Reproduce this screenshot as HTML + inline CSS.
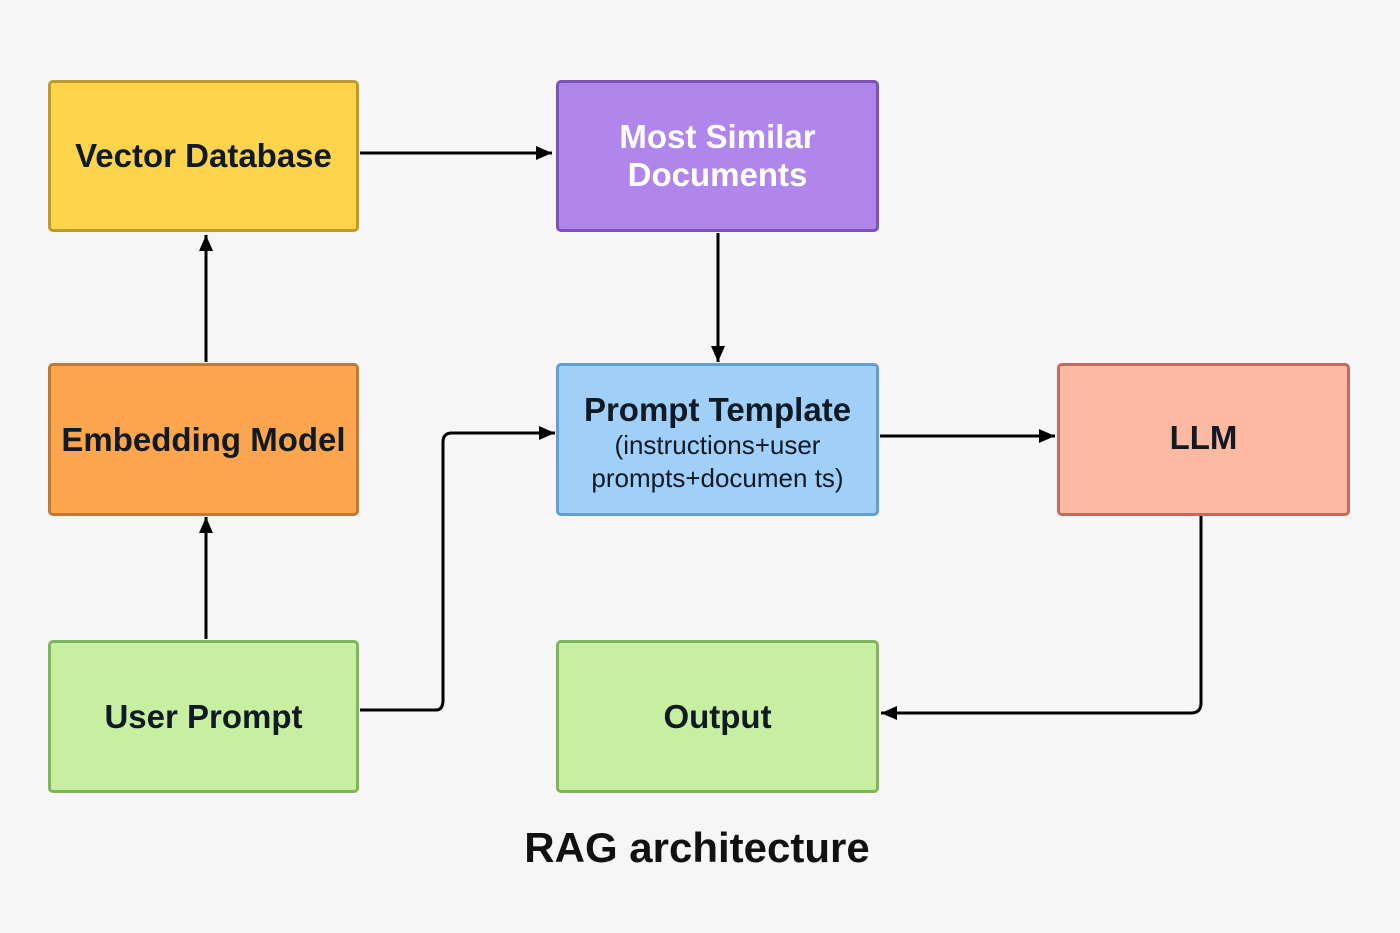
<!DOCTYPE html>
<html><head><style>
body{margin:0;width:1400px;height:933px;background:#f6f6f6;font-family:"Liberation Sans",sans-serif;position:relative;overflow:hidden}
.b{position:absolute;box-sizing:border-box;border:3px solid;border-radius:5px;display:flex;align-items:center;justify-content:center;text-align:center;font-weight:bold;font-size:33px;color:#0f1a24;line-height:38px}
svg{position:absolute;left:0;top:0}
</style></head><body>
<div class="b" style="left:48px;top:80px;width:311px;height:152px;background:#fed44c;border-color:#c19a2e;padding-top:0">Vector Database</div>
<div class="b" style="left:556px;top:80px;width:323px;height:152px;background:#b085ec;border-color:#7e51b7;color:#fff">Most Similar<br>Documents</div>
<div class="b" style="left:48px;top:363px;width:311px;height:153px;background:#fba54e;border-color:#c07a33">Embedding Model</div>
<div class="b" style="left:556px;top:363px;width:323px;height:153px;background:#a0cff8;border-color:#5f9fd3;flex-direction:column;padding-top:6px"><div>Prompt Template</div><div style="font-weight:normal;font-size:26px;line-height:33px">(instructions+user<br>prompts+documen ts)</div></div>
<div class="b" style="left:1057px;top:363px;width:293px;height:153px;background:#feb9a2;border-color:#c36a5c;padding-bottom:4px">LLM</div>
<div class="b" style="left:48px;top:640px;width:311px;height:153px;background:#c8eea2;border-color:#7eb75a">User Prompt</div>
<div class="b" style="left:556px;top:640px;width:323px;height:153px;background:#c8eea2;border-color:#7eb75a">Output</div>
<div style="position:absolute;left:0;width:1394px;top:824px;text-align:center;font-weight:bold;font-size:42px;color:#111">RAG architecture</div>
<svg width="1400" height="933">
<defs>
<marker id="m" markerWidth="16" markerHeight="14" refX="16" refY="7" orient="auto" markerUnits="userSpaceOnUse"><path d="M0,0L16,7L0,14z" fill="#000"/></marker></defs>
<g stroke="#000" stroke-width="3" fill="none" marker-end="url(#m)">
<path d="M360,153H552"/>
<path d="M718,233V362"/>
<path d="M206,362V235"/>
<path d="M206,639V517"/>
<path d="M880,436H1055"/>
<path d="M360,710H436Q443,710 443,700V442Q443,433 452,433H555"/>
<path d="M1201,516V703Q1201,713 1191,713H881"/>
</g>
</svg>
</body></html>
